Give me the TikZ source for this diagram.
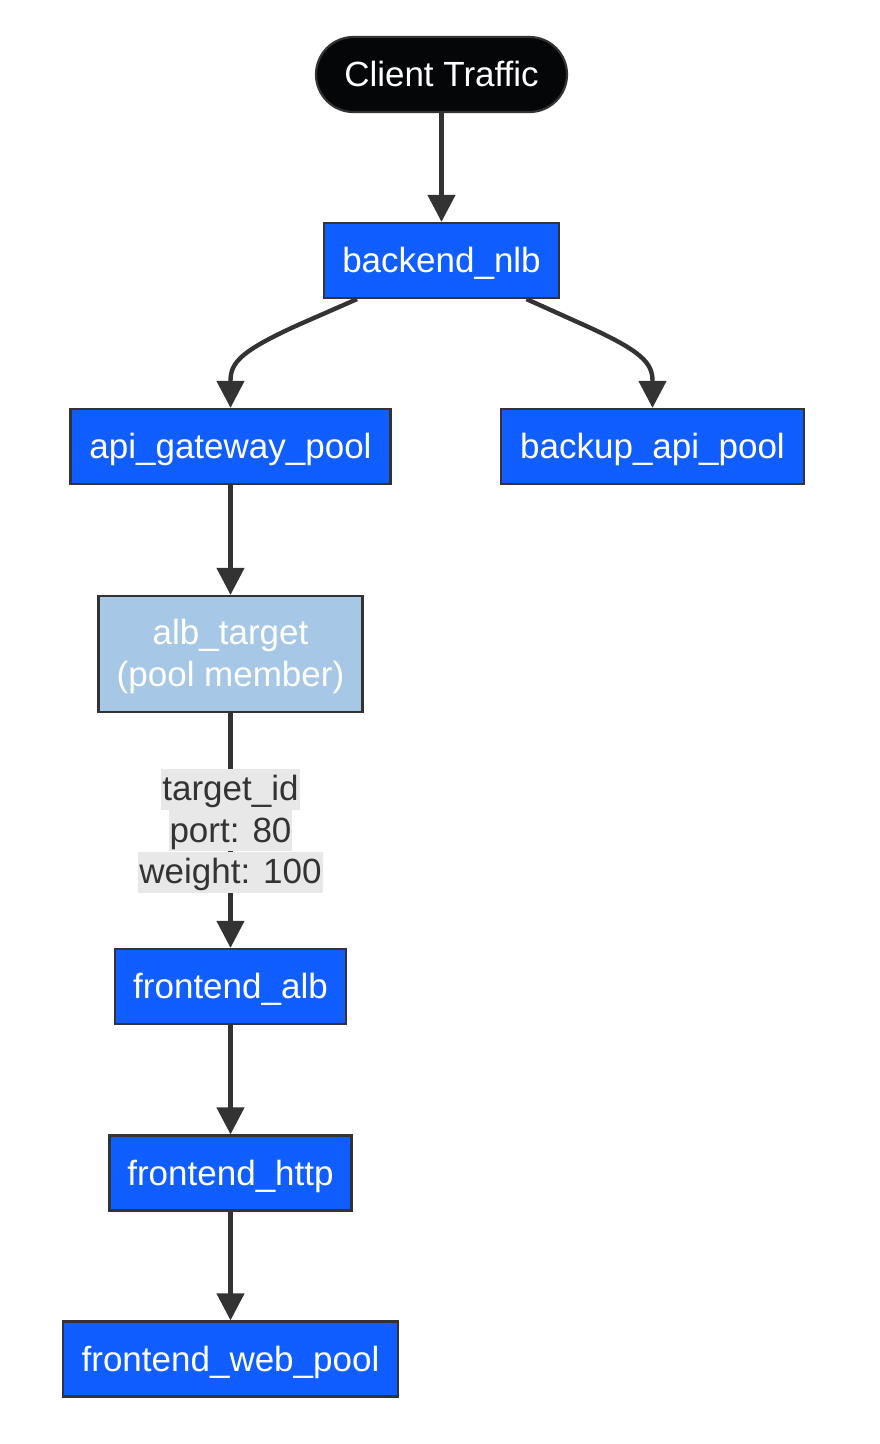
\documentclass[tikz,border=0pt]{standalone}
\usepackage{fontspec}
\setmainfont{Liberation Sans}
\usetikzlibrary{arrows.meta,calc}
\definecolor{nodeblue}{RGB}{16,94,255}
\definecolor{edgegray}{HTML}{333333}
\definecolor{lightblue}{HTML}{A6C7E6}
\definecolor{labelbg}{HTML}{E8E8E8}
\definecolor{pillblack}{HTML}{050608}
\begin{document}
\begin{tikzpicture}[x=1pt,y=-1pt,
  box/.style={draw=edgegray, line width=2.2pt, fill=nodeblue, text=white,
    minimum height=75pt, inner sep=0pt, text height=30pt, text depth=6pt,
    font=\fontsize{35}{42}\selectfont},
  pill/.style={box, fill=pillblack, rounded corners=37.5pt},
  conn/.style={draw=edgegray, line width=4.4pt, -{Triangle[length=27pt,width=27pt]}},
  lab/.style={fill=labelbg, text=edgegray, inner xsep=1pt, inner ysep=1pt,
    text height=31pt, text depth=8pt, font=\fontsize{35}{42}\selectfont}]
\useasboundingbox (0,0) rectangle (880,1444);
\fill[white] (0,0) rectangle (880,1444);

\node[pill, minimum width=251pt] (cl) at (441.5,74.5) {Client Traffic};
\node[box, minimum width=235pt] (nlb) at (441.5,260.5) {backend\_nlb};
\node[box, minimum width=320pt] (api) at (230.5,446.5) {api\_gateway\_pool};
\node[box, minimum width=303pt] (bak) at (652.5,446.5) {backup\_api\_pool};
\node[box, fill=lightblue, minimum width=264pt, minimum height=116pt,
  align=center, text height=72pt, text depth=8pt] (alb) at (230.5,654) {alb\_target\\(pool member)};
\node[box, minimum width=231pt] (falb) at (230.5,986.5) {frontend\_alb};
\node[box, minimum width=242pt] (http) at (230.5,1173) {frontend\_http};
\node[box, minimum width=335pt] (web) at (230.5,1359) {frontend\_web\_pool};

\draw[conn] (cl) -- (nlb);
\coordinate (l0) at ([xshift=-84.5pt]nlb.south);
\coordinate (r0) at ([xshift=85pt]nlb.south);
\draw[conn] (l0) -- ($(l0)+(-57,25)$) .. controls ($(l0)+(-117,52)$) and ($(api.north)+(0,-45)$) .. ($(api.north)+(0,-27)$) -- (api.north);
\draw[conn] (r0) -- ($(r0)+(60,27)$) .. controls ($(r0)+(115,52)$) and ($(bak.north)+(0,-45)$) .. ($(bak.north)+(0,-27)$) -- (bak.north);
\draw[conn] (api) -- (alb);
\draw[conn] (alb) -- (falb);
\draw[conn] (falb) -- (http);
\draw[conn] (http) -- (web);

\node[lab] (lab1) at (230.5,789) {target\_id};
\node[lab] (lab2) at (230.5,830.5) {port: 80};
\node[lab] (lab3) at (230.5,872) {weight: 100};
\end{tikzpicture}
\end{document}
